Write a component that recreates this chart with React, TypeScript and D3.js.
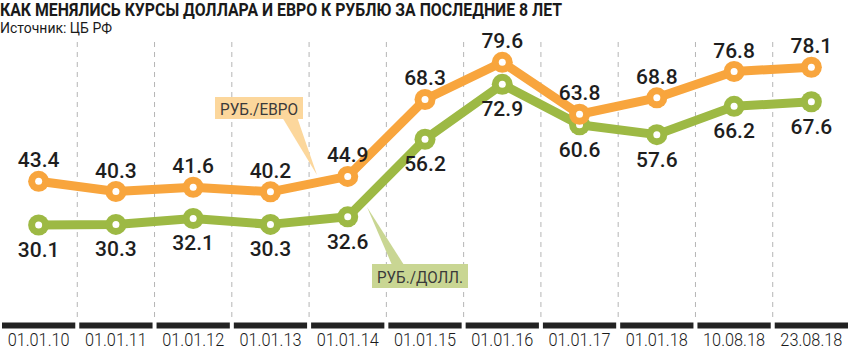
import React, { useEffect, useRef } from 'react';
import * as d3 from 'd3';

const dates = ['01.01.10', '01.01.11', '01.01.12', '01.01.13', '01.01.14', '01.01.15', '01.01.16', '01.01.17', '01.01.18', '10.08.18', '23.08.18'];
const euro = [43.4, 40.3, 41.6, 40.2, 44.9, 68.3, 79.6, 63.8, 68.8, 76.8, 78.1];
const dollar = [30.1, 30.3, 32.1, 30.3, 32.6, 56.2, 72.9, 60.6, 57.6, 66.2, 67.6];

const ORANGE = '#f8a53d';
const GREEN = '#9db944';

const App = () => {
  const svgRef = useRef<SVGSVGElement>(null);

  useEffect(() => {
    const width = 850;
    const height = 352;
    const svg = d3.select(svgRef.current).attr('width', width).attr('height', height);
    svg.selectAll('*').remove();

    const x = d3.scaleBand().domain(dates).range([0, width]).padding(0);
    const y = d3.scaleLinear().domain([0, 80]).range([324, 61]);
    const cx = (d: string) => (x(d) as number) + x.bandwidth() / 2;

    // title
    svg.append('text')
      .attr('x', 0).attr('y', 16)
      .attr('font-family', 'Roboto, sans-serif')
      .attr('font-weight', 'bold')
      .attr('font-size', 18)
      .attr('fill', '#1a1a1a')
      .attr('textLength', 562)
      .attr('lengthAdjust', 'spacingAndGlyphs')
      .text('КАК МЕНЯЛИСЬ КУРСЫ ДОЛЛАРА И ЕВРО К РУБЛЮ ЗА ПОСЛЕДНИЕ 8 ЛЕТ');

    svg.append('text')
      .attr('x', 0).attr('y', 33)
      .attr('font-family', 'Roboto, sans-serif')
      .attr('font-size', 15)
      .attr('fill', '#1a1a1a')
      .attr('textLength', 112)
      .attr('lengthAdjust', 'spacingAndGlyphs')
      .text('Источник: ЦБ РФ');

    // dashed separators
    svg.append('g').selectAll('line')
      .data(dates.slice(1))
      .enter().append('line')
      .attr('x1', d => x(d) as number)
      .attr('x2', d => x(d) as number)
      .attr('y1', 42).attr('y2', 319)
      .attr('stroke', '#b5b5b5')
      .attr('stroke-width', 1)
      .attr('stroke-dasharray', '5,5');

    // bottom bars and labels
    const axis = svg.append('g');
    axis.selectAll('rect')
      .data(dates)
      .enter().append('rect')
      .attr('x', d => (x(d) as number) + 2)
      .attr('y', 322.5)
      .attr('width', x.bandwidth() - 4)
      .attr('height', 6)
      .attr('fill', '#222');
    axis.selectAll('text')
      .data(dates)
      .enter().append('text')
      .attr('x', d => cx(d))
      .attr('y', 346)
      .attr('text-anchor', 'middle')
      .attr('font-family', 'Roboto, sans-serif')
      .attr('font-weight', 300)
      .attr('font-size', 18)
      .attr('fill', '#1a1a1a')
      .attr('textLength', 62)
      .attr('lengthAdjust', 'spacingAndGlyphs')
      .text(d => d);

    // legend callouts
    const leg = svg.append('g');
    leg.append('path')
      .attr('d', 'M282,117 L297,117 L317,175 Z')
      .attr('fill', '#fcd79c');
    leg.append('rect')
      .attr('x', 215).attr('y', 97).attr('width', 88).attr('height', 22)
      .attr('fill', '#fcd79c');
    leg.append('text')
      .attr('x', 259).attr('y', 115)
      .attr('text-anchor', 'middle')
      .attr('font-family', 'Roboto, sans-serif')
      .attr('font-size', 17)
      .attr('fill', '#3a3a3a')
      .attr('textLength', 78)
      .attr('lengthAdjust', 'spacingAndGlyphs')
      .text('РУБ./ЕВРО');

    leg.append('path')
      .attr('d', 'M392,265 L404,265 L367,207 Z')
      .attr('fill', '#c9d693');
    leg.append('rect')
      .attr('x', 372).attr('y', 264).attr('width', 96).attr('height', 24)
      .attr('fill', '#c9d693');
    leg.append('text')
      .attr('x', 420).attr('y', 283)
      .attr('text-anchor', 'middle')
      .attr('font-family', 'Roboto, sans-serif')
      .attr('font-size', 17)
      .attr('fill', '#3a3a3a')
      .attr('textLength', 86)
      .attr('lengthAdjust', 'spacingAndGlyphs')
      .text('РУБ./ДОЛЛ.');

    const drawSeries = (values: number[], color: string, labelDy: number) => {
      const g = svg.append('g');
      const line = d3.line<number>()
        .x((_, i) => cx(dates[i]))
        .y(v => y(v));
      g.append('path')
        .datum(values)
        .attr('d', line)
        .attr('fill', 'none')
        .attr('stroke', color)
        .attr('stroke-width', 9)
        .attr('stroke-linejoin', 'round');
      g.selectAll('circle.outer')
        .data(values)
        .enter().append('circle')
        .attr('class', 'outer')
        .attr('cx', (_, i) => cx(dates[i]))
        .attr('cy', v => y(v))
        .attr('r', 10.5)
        .attr('fill', color);
      g.selectAll('circle.inner')
        .data(values)
        .enter().append('circle')
        .attr('class', 'inner')
        .attr('cx', (_, i) => cx(dates[i]))
        .attr('cy', v => y(v))
        .attr('r', 3.5)
        .attr('fill', '#fff');
      g.selectAll('text')
        .data(values)
        .enter().append('text')
        .attr('x', (_, i) => cx(dates[i]))
        .attr('y', v => y(v) + labelDy)
        .attr('text-anchor', 'middle')
        .attr('font-family', 'Roboto, sans-serif')
        .attr('font-weight', 500)
        .attr('font-size', 21)
        .attr('fill', '#1e1e1e')
        .text(v => v.toFixed(1));
    };

    drawSeries(dollar, GREEN, 32);
    drawSeries(euro, ORANGE, -14);
  }, []);

  return <svg ref={svgRef} style={{ position: 'absolute', left: 0, top: 0, background: '#fff' }}></svg>;
};

export default App;
